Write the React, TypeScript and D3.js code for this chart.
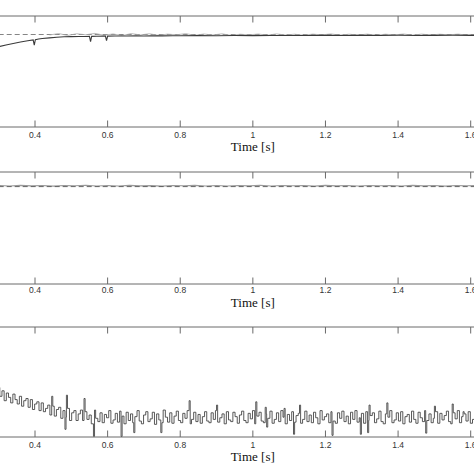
import React from "react";
import * as d3 from "d3";

// ---------- data ----------
const tickValues = [0.4, 0.6, 0.8, 1.0, 1.2, 1.4, 1.6];
const tickLabels = ["0.4", "0.6", "0.8", "1", "1.2", "1.4", "1.6"];
const axisTitle = "Time [s]";

// Panel 1: response (solid), reference (dashed), measured ripple (light)
const p1Times = [0.30, 0.32, 0.34, 0.36, 0.38, 0.395, 0.398, 0.401, 0.41, 0.42,
  0.44, 0.46, 0.48, 0.50, 0.52, 0.54, 0.550, 0.553, 0.556, 0.57,
  0.59, 0.594, 0.597, 0.600, 0.62, 0.65, 0.68, 0.70, 0.72, 0.75,
  0.78, 0.80, 0.85, 0.90, 0.95, 1.00, 1.05, 1.10, 1.15, 1.20,
  1.25, 1.30, 1.35, 1.40, 1.45, 1.50, 1.55, 1.60, 1.62];
const p1Values = [0.868, 0.886, 0.903, 0.919, 0.932, 0.942, 0.886, 0.944, 0.951, 0.957,
  0.964, 0.971, 0.975, 0.977, 0.978, 0.979, 0.980, 0.922, 0.980, 0.981,
  0.982, 0.982, 0.933, 0.982, 0.983, 0.984, 0.985, 0.983, 0.986, 0.985,
  0.987, 0.986, 0.988, 0.987, 0.989, 0.988, 0.990, 0.989, 0.990, 0.991,
  0.989, 0.991, 0.990, 0.992, 0.990, 0.991, 0.992, 0.991, 0.991];
const p1Reference = [1.0, 1.0];
const p1ReferenceTimes = [0.30, 1.62];
const p1RippleStart = 0.44;
const p1RippleStep = 0.025;
const p1Ripple = [0.995, 1.010, 0.990, 1.008, 0.997, 1.012, 0.992, 1.006, 0.988, 1.010,
  0.995, 1.008, 0.991, 1.004, 0.997, 1.009, 0.992, 1.005, 0.995, 1.007,
  0.991, 1.003, 0.996, 1.005, 0.993, 1.006, 0.995, 1.003, 0.992, 1.004,
  0.996, 1.006, 0.993, 1.003, 0.995, 1.004, 0.992, 1.003, 0.996, 1.005,
  0.993, 1.004, 0.995, 1.003, 0.996, 1.004, 0.994, 1.000];

// Panel 2: nearly constant signal and its dashed reference
const p2Start = 0.30;
const p2Step = 0.03;
const p2Values = [1.012, 1.006, 1.013, 1.008, 1.011, 1.005, 1.012, 1.009, 1.014, 1.007,
  1.011, 1.006, 1.013, 1.008, 1.010, 1.005, 1.012, 1.009, 1.013, 1.007,
  1.011, 1.006, 1.012, 1.008, 1.014, 1.006, 1.011, 1.009, 1.012, 1.005,
  1.013, 1.008, 1.011, 1.006, 1.012, 1.009, 1.010, 1.006, 1.013, 1.008,
  1.011, 1.005, 1.012, 1.009, 1.011];
const p2Reference = [1.0, 1.0];
const p2ReferenceTimes = [0.30, 1.62];

// Panel 3: noisy decaying signal, sampled every 6 ms, plus isolated spikes
const p3Start = 0.30;
const p3Step = 0.006;
const p3Values = [
  4.5, 3.7, 4.2, 3.3, 4.0, 3.6, 3.1, 3.9, 3.4, 3.0, 3.7, 2.8, 3.3, 3.5, 2.7, 3.4, 2.5, 3.0, 3.2, 2.4,
  3.1, 2.3, 2.6, 2.9, 2.0, 2.8, 1.9, 2.5, 2.7, 1.7, 2.4, 1.8, 2.6, 1.5, 2.2, 2.4, 1.5, 2.1, 2.45, 1.5,
  2.3, 1.6, 2.0, 1.2, 2.45, 1.7, 1.4, 2.2, 1.3, 2.05, 1.75, 2.4, 1.25, 1.55, 2.15, 1.35, 2.35, 1.9, 1.2, 2.25,
  1.5, 2.1, 1.3, 1.85, 2.4, 1.45, 1.2, 2.0, 2.3, 1.4, 1.65, 2.25, 1.15, 2.1, 1.55, 1.3, 2.45, 1.8, 1.35, 2.2,
  1.25, 1.9, 2.35, 1.5, 1.3, 2.15, 1.7, 2.4, 1.2, 1.6, 2.25, 1.4, 2.05, 1.25, 1.85, 2.3, 1.45, 1.3, 2.2, 1.6,
  2.4, 1.35, 1.75, 2.1, 1.2, 2.3, 1.55, 1.4, 2.25, 1.85, 1.25, 2.0, 2.35, 1.5, 1.3, 2.15, 1.65, 2.4, 1.2, 1.9,
  2.25, 1.45, 1.3, 2.1, 1.7, 2.35, 1.25, 1.6, 2.2, 1.4, 2.4, 1.8, 1.2, 2.05, 1.5, 2.3, 1.35, 1.95, 2.15, 1.25,
  1.6, 2.35, 1.4, 2.0, 1.3, 2.25, 1.75, 1.2, 2.4, 1.55, 1.85, 2.1, 1.3, 2.3, 1.45, 1.25, 2.2, 1.7, 2.35, 1.4,
  1.9, 1.2, 2.25, 1.6, 2.4, 1.35, 1.75, 2.15, 1.25, 2.3, 1.5, 1.95, 2.2, 1.3, 1.65, 2.35, 1.4, 1.2, 2.1, 1.8,
  2.4, 1.3, 1.55, 2.2, 1.45, 2.3, 1.2, 1.85, 2.05, 1.35, 2.35, 1.6, 1.25, 2.25, 1.75, 1.4, 2.4, 1.5, 2.1, 1.3,
  1.7, 2.3, 1.25, 2.15, 1.55, 1.95, 2.35, 1.4, 1.2, 2.2, 1.65, 2.4, 1.3, 1.85, 2.1, 1.45, 2.3, 1.25, 1.6, 2.2, 1.8,
];
const p3SpikeTimes = [0.448, 0.485, 0.487, 0.536, 0.564, 0.638, 0.672, 0.749, 0.827, 0.900,
  1.008, 1.036, 1.038, 1.086, 1.114, 1.129, 1.218, 1.296, 1.318, 1.320,
  1.370, 1.476, 1.500, 1.550, 1.580];
const p3SpikeValues = [3.7, 0.7, 3.8, 3.5, 0.05, 0.05, 0.4, 0.4, 3.3, 2.9,
  3.2, 2.7, 0.9, 2.6, 0.25, 2.9, 0.15, 0.25, 0.4, 2.9,
  3.1, 0.35, 2.8, 3.0, 2.3];

// ---------- layout ----------
const W = 474;
const H = 474;
const panels = [
  { top: 16, bottom: 127, domain: [0, 1.2], labelDy: 11, titleDy: 24 },
  { top: 172, bottom: 284, domain: [0, 1.15], labelDy: 9, titleDy: 23 },
  { top: 327, bottom: 437, domain: [0, 10], labelDy: 11, titleDy: 24 },
];

type Pt = [number, number];

function zip(ts: number[], vs: number[]): Pt[] {
  return vs.map((v, i) => [ts[i], v] as Pt);
}
function sampled(start: number, step: number, vs: number[]): Pt[] {
  return vs.map((v, i) => [start + i * step, v] as Pt);
}

export default function App() {
  const x = d3.scaleLinear().domain([0.4, 1.6]).range([35, 470.7]);
  const ys = panels.map((p) =>
    d3.scaleLinear().domain(p.domain).range([p.bottom, p.top])
  );
  const lineFor = (y: d3.ScaleLinear<number, number>) =>
    d3.line<Pt>().x((d) => x(d[0])).y((d) => y(d[1]));

  const s1 = zip(p1Times, p1Values);
  const r1 = zip(p1ReferenceTimes, p1Reference);
  const rip1 = sampled(p1RippleStart, p1RippleStep, p1Ripple);
  const s2 = sampled(p2Start, p2Step, p2Values);
  const r2 = zip(p2ReferenceTimes, p2Reference);
  const s3 = sampled(p3Start, p3Step, p3Values)
    .concat(zip(p3SpikeTimes, p3SpikeValues))
    .sort((a, b) => a[0] - b[0]);

  const line3 = d3
    .line<Pt>()
    .x((d) => x(d[0]))
    .y((d) => ys[2](d[1]))
    .curve(d3.curveStep);

  const tickLen = 6.5;
  const frameColor = "#6a6a6a";

  return (
    <svg
      width={W}
      height={H}
      style={{ position: "absolute", left: 0, top: 0, background: "#fff" }}
    >
      <defs>
        {panels.map((p, i) => (
          <clipPath id={`clip${i}`} key={i}>
            <rect x={0} y={p.top} width={W} height={p.bottom - p.top} />
          </clipPath>
        ))}
      </defs>

      {/* data */}
      <g clipPath="url(#clip0)" fill="none">
        <path d={lineFor(ys[0])(r1) || ""} stroke="#777" strokeWidth={0.9} strokeDasharray="5,3" />
        <path d={lineFor(ys[0])(rip1) || ""} stroke="#aaa" strokeWidth={0.8} />
        <path d={lineFor(ys[0])(s1) || ""} stroke="#3a3a3a" strokeWidth={1.1} />
      </g>
      <g clipPath="url(#clip1)" fill="none">
        <path d={lineFor(ys[1])(s2) || ""} stroke="#9a9a9a" strokeWidth={1.1} />
        <path d={lineFor(ys[1])(r2) || ""} stroke="#555" strokeWidth={0.9} strokeDasharray="5,3" />
      </g>
      <g clipPath="url(#clip2)" fill="none">
        <path d={line3(s3) || ""} stroke="#3c3c3c" strokeWidth={0.85} />
      </g>

      {/* frames, ticks, labels */}
      {panels.map((p, i) => (
        <g key={i}>
          <line x1={0} x2={W} y1={p.top} y2={p.top} stroke={frameColor} strokeWidth={1} />
          <line x1={0} x2={W} y1={p.bottom} y2={p.bottom} stroke={frameColor} strokeWidth={1} />
          {tickValues.map((t, k) => (
            <g key={k}>
              <line x1={x(t)} x2={x(t)} y1={p.top} y2={p.top + tickLen} stroke={frameColor} strokeWidth={1} />
              <line x1={x(t)} x2={x(t)} y1={p.bottom} y2={p.bottom - tickLen} stroke={frameColor} strokeWidth={1} />
              <text
                x={x(t)}
                y={p.bottom + p.labelDy}
                textAnchor="middle"
                fontFamily="Liberation Sans, Arial, sans-serif"
                fontSize={8.5}
                fill="#333"
              >
                {tickLabels[k]}
              </text>
            </g>
          ))}
          <text
            x={x(1.0)}
            y={p.bottom + p.titleDy}
            textAnchor="middle"
            fontFamily="Liberation Serif, Times New Roman, serif"
            fontSize={13}
            fill="#111"
          >
            {axisTitle}
          </text>
        </g>
      ))}
    </svg>
  );
}
